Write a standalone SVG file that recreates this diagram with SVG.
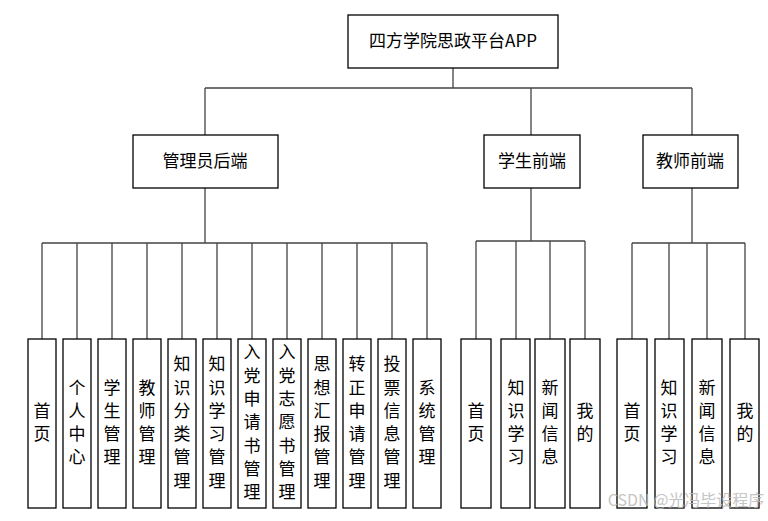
<svg xmlns="http://www.w3.org/2000/svg" width="768" height="521" viewBox="0 0 768 521">
<style>
rect{fill:#fff;stroke:#000;stroke-width:1.3}
.c path{fill:none;stroke:#444;stroke-width:1.3}
text{font-family:"Noto Sans CJK SC","Liberation Sans",sans-serif;font-size:17px;fill:#000;text-anchor:middle}
.v{font-size:17px}
</style>
<rect width="768" height="521" style="stroke:none"/>
<g class="c">
<path d="M453 68V88M205 88H692M205 88V135M531 88V135M692 88V135"/>
<path d="M205 188V243M42 243H427M42 243V339M77 243V339M112 243V339M147 243V339M182 243V339M217 243V339M252 243V339M287 243V339M322 243V339M357 243V339M392 243V339M427 243V339"/>
<path d="M531 188V241M476 241H585M476 241V339M516 241V339M550 241V339M585 241V339"/>
<path d="M692 188V243M632 243H745M632 243V339M669 243V339M707 243V339M745 243V339"/>
</g>
<g id="root"><rect x="348" y="15" width="210" height="53"/><text x="453" y="47">四方学院思政平台APP</text></g>
<g id="admin"><rect x="133" y="135" width="145" height="53"/><text x="205" y="167">管理员后端</text></g>
<g id="student"><rect x="484" y="135" width="96" height="53"/><text x="532" y="167">学生前端</text></g>
<g id="teacher"><rect x="643" y="135" width="95" height="53"/><text x="690" y="167">教师前端</text></g>
<g id="a1"><rect x="28" y="339" width="28" height="169"/><text x="42" y="417">首</text><text x="42" y="440">页</text></g>
<g id="a2"><rect x="63" y="339" width="28" height="169"/><text x="77" y="394">个</text><text x="77" y="417">人</text><text x="77" y="440">中</text><text x="77" y="463">心</text></g>
<g id="a3"><rect x="98" y="339" width="28" height="169"/><text x="112" y="394">学</text><text x="112" y="417">生</text><text x="112" y="440">管</text><text x="112" y="463">理</text></g>
<g id="a4"><rect x="133" y="339" width="28" height="169"/><text x="147" y="394">教</text><text x="147" y="417">师</text><text x="147" y="440">管</text><text x="147" y="463">理</text></g>
<g id="a5"><rect x="168" y="339" width="28" height="169"/><text x="182" y="370">知</text><text x="182" y="394">识</text><text x="182" y="417">分</text><text x="182" y="440">类</text><text x="182" y="463">管</text><text x="182" y="487">理</text></g>
<g id="a6"><rect x="203" y="339" width="28" height="169"/><text x="217" y="370">知</text><text x="217" y="394">识</text><text x="217" y="417">学</text><text x="217" y="440">习</text><text x="217" y="463">管</text><text x="217" y="487">理</text></g>
<g id="a7"><rect x="238" y="339" width="28" height="169"/><text x="252" y="358">入</text><text x="252" y="382">党</text><text x="252" y="405">申</text><text x="252" y="428">请</text><text x="252" y="452">书</text><text x="252" y="475">管</text><text x="252" y="498">理</text></g>
<g id="a8"><rect x="273" y="339" width="28" height="169"/><text x="287" y="358">入</text><text x="287" y="382">党</text><text x="287" y="405">志</text><text x="287" y="428">愿</text><text x="287" y="452">书</text><text x="287" y="475">管</text><text x="287" y="498">理</text></g>
<g id="a9"><rect x="308" y="339" width="28" height="169"/><text x="322" y="370">思</text><text x="322" y="394">想</text><text x="322" y="417">汇</text><text x="322" y="440">报</text><text x="322" y="463">管</text><text x="322" y="487">理</text></g>
<g id="a10"><rect x="343" y="339" width="28" height="169"/><text x="357" y="370">转</text><text x="357" y="394">正</text><text x="357" y="417">申</text><text x="357" y="440">请</text><text x="357" y="463">管</text><text x="357" y="487">理</text></g>
<g id="a11"><rect x="378" y="339" width="28" height="169"/><text x="392" y="370">投</text><text x="392" y="394">票</text><text x="392" y="417">信</text><text x="392" y="440">息</text><text x="392" y="463">管</text><text x="392" y="487">理</text></g>
<g id="a12"><rect x="413" y="339" width="28" height="169"/><text x="427" y="394">系</text><text x="427" y="417">统</text><text x="427" y="440">管</text><text x="427" y="463">理</text></g>
<g id="s1"><rect x="461" y="339" width="30" height="169"/><text x="476" y="417">首</text><text x="476" y="440">页</text></g>
<g id="s2"><rect x="501" y="339" width="29" height="169"/><text x="516" y="394">知</text><text x="516" y="417">识</text><text x="516" y="440">学</text><text x="516" y="463">习</text></g>
<g id="s3"><rect x="535" y="339" width="30" height="169"/><text x="550" y="394">新</text><text x="550" y="417">闻</text><text x="550" y="440">信</text><text x="550" y="463">息</text></g>
<g id="s4"><rect x="570" y="339" width="30" height="169"/><text x="585" y="417">我</text><text x="585" y="440">的</text></g>
<g id="t1"><rect x="617" y="339" width="30" height="169"/><text x="632" y="417">首</text><text x="632" y="440">页</text></g>
<g id="t2"><rect x="655" y="339" width="29" height="169"/><text x="669" y="394">知</text><text x="669" y="417">识</text><text x="669" y="440">学</text><text x="669" y="463">习</text></g>
<g id="t3"><rect x="692" y="339" width="30" height="169"/><text x="707" y="394">新</text><text x="707" y="417">闻</text><text x="707" y="440">信</text><text x="707" y="463">息</text></g>
<g id="t4"><rect x="730" y="339" width="29" height="169"/><text x="745" y="417">我</text><text x="745" y="440">的</text></g>
<text x="686" y="506" style="font-size:16px;fill:#bbb;opacity:0.85">CSDN @光冯毕设程序</text>
</svg>
